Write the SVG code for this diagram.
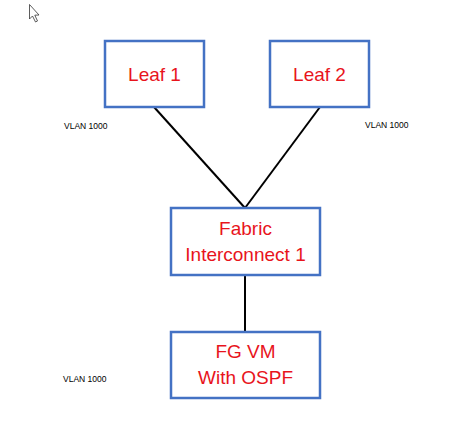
<svg xmlns="http://www.w3.org/2000/svg" width="474" height="440" viewBox="0 0 474 440">
<style>
.box{fill:#fff;stroke:#4472c4;stroke-width:2.5}
.lbl{font-family:"Liberation Sans",Arial,sans-serif;font-size:19px;fill:#e8141c;text-anchor:middle}
.vlan{font-family:"Liberation Sans",Arial,sans-serif;font-size:8.5px;fill:#000}
.conn{stroke:#000;stroke-width:2;fill:none}
</style>
<rect width="474" height="440" fill="#fff"/>
<path d="M29.5 4.5 L29.5 19 L32.5 16 L35.5 22 L37.5 21 L34.8 15.2 L39 15 Z" fill="#fff" stroke="#333" stroke-width="0.8"/>
<g id="connectors">
<line class="conn" x1="154" y1="107" x2="245" y2="208"/>
<line class="conn" x1="320" y1="107" x2="245" y2="208"/>
<line class="conn" x1="245" y1="275" x2="245" y2="332"/>
</g>
<g id="leaf1">
<rect class="box" x="105" y="41" width="99" height="66"/>
<text class="lbl" x="154.5" y="81">Leaf 1</text>
</g>
<g id="leaf2">
<rect class="box" x="270" y="41" width="99" height="66"/>
<text class="lbl" x="319.5" y="81">Leaf 2</text>
</g>
<g id="fabric">
<rect class="box" x="171" y="208" width="149" height="67"/>
<text class="lbl" x="245.5" y="235">Fabric</text>
<text class="lbl" x="245.5" y="261">Interconnect 1</text>
</g>
<g id="fgvm">
<rect class="box" x="171" y="332" width="149" height="66"/>
<text class="lbl" x="245.5" y="358">FG VM</text>
<text class="lbl" x="245.5" y="384">With OSPF</text>
</g>
<g id="labels">
<text class="vlan" x="64" y="129">VLAN 1000</text>
<text class="vlan" x="365" y="128">VLAN 1000</text>
<text class="vlan" x="63" y="382">VLAN 1000</text>
</g>
</svg>
